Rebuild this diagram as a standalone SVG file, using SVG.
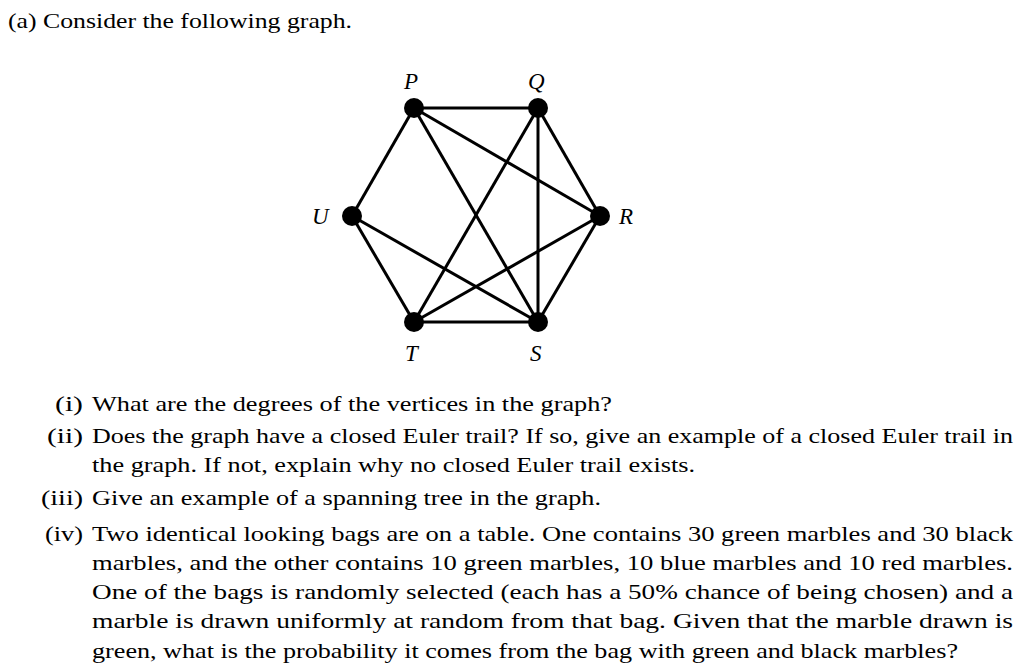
<svg xmlns="http://www.w3.org/2000/svg" width="1024" height="671" viewBox="0 0 1024 671">
<style>
text{font-family:"Liberation Serif","DejaVu Serif",serif;font-size:22px;fill:#000}
.l{font-style:italic;font-size:23px}
#edges line{stroke:#000;stroke-width:3}
circle{fill:#000}
</style>
<rect width="1024" height="671" fill="#fff"/>
<text x="8" y="28" textLength="344" lengthAdjust="spacingAndGlyphs">(a) Consider the following graph.</text>
<g id="edges">
<line x1="414" y1="108" x2="538" y2="108"/>
<line x1="538" y1="108" x2="600" y2="216"/>
<line x1="600" y1="216" x2="538" y2="322"/>
<line x1="538" y1="322" x2="414" y2="322"/>
<line x1="414" y1="322" x2="352" y2="216"/>
<line x1="352" y1="216" x2="414" y2="108"/>
<line x1="414" y1="108" x2="600" y2="216"/>
<line x1="414" y1="108" x2="538" y2="322"/>
<line x1="538" y1="108" x2="414" y2="322"/>
<line x1="538" y1="108" x2="538" y2="322"/>
<line x1="352" y1="216" x2="538" y2="322"/>
<line x1="414" y1="322" x2="600" y2="216"/>
</g>
<g id="P"><circle cx="414" cy="108" r="10"/><text class="l" x="404" y="89">P</text></g>
<g id="Q"><circle cx="538" cy="108" r="10"/><text class="l" x="528" y="89">Q</text></g>
<g id="R"><circle cx="600" cy="216" r="10"/><text class="l" x="619" y="224">R</text></g>
<g id="S"><circle cx="538" cy="322" r="10"/><text class="l" x="530" y="361">S</text></g>
<g id="T"><circle cx="414" cy="322" r="10"/><text class="l" x="405" y="361">T</text></g>
<g id="U"><circle cx="352" cy="216" r="10"/><text class="l" x="312" y="224">U</text></g>
<text x="55" y="411" textLength="28" lengthAdjust="spacingAndGlyphs">(i)</text>
<text x="92" y="411" textLength="520" lengthAdjust="spacingAndGlyphs">What are the degrees of the vertices in the graph?</text>
<text x="47" y="443" textLength="36" lengthAdjust="spacingAndGlyphs">(ii)</text>
<text x="92" y="443" textLength="921" lengthAdjust="spacingAndGlyphs">Does the graph have a closed Euler trail? If so, give an example of a closed Euler trail in</text>
<text x="92" y="472" textLength="603" lengthAdjust="spacingAndGlyphs">the graph. If not, explain why no closed Euler trail exists.</text>
<text x="41" y="505" textLength="42" lengthAdjust="spacingAndGlyphs">(iii)</text>
<text x="92" y="505" textLength="509" lengthAdjust="spacingAndGlyphs">Give an example of a spanning tree in the graph.</text>
<text x="45" y="541" textLength="38" lengthAdjust="spacingAndGlyphs">(iv)</text>
<text x="92" y="541" textLength="921" lengthAdjust="spacingAndGlyphs">Two identical looking bags are on a table. One contains 30 green marbles and 30 black</text>
<text x="92" y="570" textLength="921" lengthAdjust="spacingAndGlyphs">marbles, and the other contains 10 green marbles, 10 blue marbles and 10 red marbles.</text>
<text x="92" y="599" textLength="921" lengthAdjust="spacingAndGlyphs">One of the bags is randomly selected (each has a 50% chance of being chosen) and a</text>
<text x="92" y="628" textLength="921" lengthAdjust="spacingAndGlyphs">marble is drawn uniformly at random from that bag. Given that the marble drawn is</text>
<text x="92" y="658" textLength="866" lengthAdjust="spacingAndGlyphs">green, what is the probability it comes from the bag with green and black marbles?</text>
</svg>
